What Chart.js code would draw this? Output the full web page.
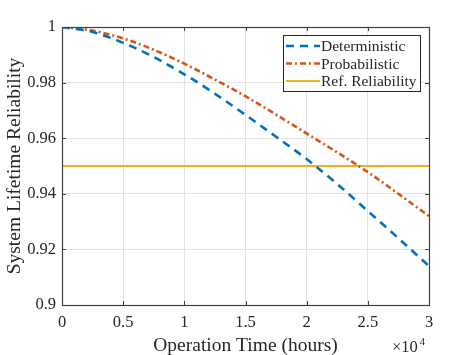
<!DOCTYPE html>
<html>
<head>
<meta charset="utf-8">
<script src="https://cdn.jsdelivr.net/npm/chart.js@4"></script>
<style>
html,body{margin:0;padding:0;background:#fff;}
#wrap{width:474px;height:355px;position:relative;}
</style>
</head>
<body>
<div id="wrap"><canvas id="c" width="474" height="355"></canvas></div>
<script>
// Operation time (hours)
const timeHours = [0, 2500, 5000, 7500, 10000, 12500, 15000, 17500, 20000, 22500, 25000, 27500, 30000];
// System lifetime reliability
const deterministic = [1.0, 0.9982, 0.9943, 0.9892, 0.9830, 0.9760, 0.9684, 0.9605, 0.9525, 0.9435, 0.9338, 0.9240, 0.9140];
const probabilistic = [1.0, 0.9987, 0.9959, 0.9918, 0.9868, 0.9811, 0.9751, 0.9685, 0.9617, 0.9549, 0.9478, 0.9400, 0.9320];
const refTime = [0, 30000];
const refReliability = [0.95, 0.95];
const seriesNames = ['Deterministic', 'Probabilistic', 'Ref. Reliability'];
const xTickValues = [0, 5000, 10000, 15000, 20000, 25000, 30000];
const yTickValues = [0.9, 0.92, 0.94, 0.96, 0.98, 1];

const FONT = '"Liberation Serif", "Times New Roman", serif';
const TXT = '#262626';

function pts(xs, ys){ return xs.map((x,i)=>({x:x, y:ys[i]})); }

const boxPlugin = {
  id: 'matlabBox',
  afterDatasetsDraw(chart){
    const {ctx, chartArea:a, scales} = chart;
    const xs = scales.x, ys = scales.y;
    ctx.save();
    // inward ticks
    ctx.strokeStyle = '#404040';
    ctx.lineWidth = 1;
    ctx.beginPath();
    xTickValues.forEach(v=>{
      const p = Math.round(xs.getPixelForValue(v))+0.5;
      ctx.moveTo(p, a.bottom); ctx.lineTo(p, a.bottom-4);
      ctx.moveTo(p, a.top); ctx.lineTo(p, a.top+4);
    });
    yTickValues.forEach(v=>{
      const p = Math.round(ys.getPixelForValue(v))+0.5;
      ctx.moveTo(a.left, p); ctx.lineTo(a.left+4, p);
      ctx.moveTo(a.right, p); ctx.lineTo(a.right-4, p);
    });
    ctx.stroke();
    // box
    ctx.strokeStyle = '#404040';
    ctx.lineWidth = 1.2;
    ctx.strokeRect(Math.round(a.left)+0.5, Math.round(a.top)+0.5, Math.round(a.right-a.left), Math.round(a.bottom-a.top));

    // legend
    const lx = 283, ly = 35, lw = 137, lh = 56;
    ctx.fillStyle = '#fff';
    ctx.fillRect(lx, ly, lw, lh);
    ctx.strokeStyle = '#262626';
    ctx.lineWidth = 1;
    ctx.strokeRect(lx+0.5, ly+0.5, lw, lh);
    const rows = [46, 63.5, 81];
    chart.data.datasets.forEach((ds, i)=>{
      const y = rows[i];
      ctx.strokeStyle = ds.borderColor;
      ctx.lineWidth = ds.borderWidth;
      ctx.setLineDash(ds.borderDash || []);
      ctx.beginPath();
      ctx.moveTo(286, y); ctx.lineTo(320, y);
      ctx.stroke();
      ctx.setLineDash([]);
      ctx.fillStyle = TXT;
      ctx.font = '15.5px ' + FONT;
      ctx.textAlign = 'left';
      ctx.textBaseline = 'middle';
      ctx.fillText(ds.label, 321, y+1);
    });

    // x10^4 multiplier
    ctx.fillStyle = TXT;
    ctx.font = '16.5px ' + FONT;
    ctx.textAlign = 'left';
    ctx.textBaseline = 'alphabetic';
    ctx.fillText('\u00d710', 392, 352);
    ctx.font = '11px ' + FONT;
    ctx.fillText('4', 419.5, 345);
    ctx.restore();
  }
};

const chart = new Chart(document.getElementById('c'), {
  type: 'line',
  data: {
    datasets: [
      {
        label: seriesNames[0],
        data: pts(timeHours, deterministic),
        borderColor: '#0072BD',
        borderWidth: 2.6,
        borderDash: [8, 6],
        pointRadius: 0,
        cubicInterpolationMode: 'monotone',
        fill: false
      },
      {
        label: seriesNames[1],
        data: pts(timeHours, probabilistic),
        borderColor: '#D95319',
        borderWidth: 2.6,
        borderDash: [6, 3, 2, 3],
        pointRadius: 0,
        cubicInterpolationMode: 'monotone',
        fill: false
      },
      {
        label: seriesNames[2],
        data: pts(refTime, refReliability),
        borderColor: '#EDB120',
        borderWidth: 2,
        pointRadius: 0,
        fill: false
      }
    ]
  },
  options: {
    responsive: false,
    animation: false,
    devicePixelRatio: 1,
    layout: { padding: { left: 0, right: 45, top: 27, bottom: 0 } },
    plugins: { legend: { display: false }, tooltip: { enabled: false } },
    scales: {
      x: {
        type: 'linear',
        min: 0, max: 30000,
        afterBuildTicks(scale){ scale.ticks = xTickValues.map(v=>({value:v})); },
        afterFit(scale){ scale.height = 50; },
        grid: { color: '#e3e3e3', drawTicks: false, lineWidth: 1 },
        border: { display: false },
        ticks: {
          color: TXT,
          font: { family: FONT, size: 16.5 },
          padding: 8,
          maxRotation: 0,
          callback: v => String(v/10000)
        },
        title: {
          display: true,
          text: 'Operation Time (hours)',
          color: TXT,
          font: { family: FONT, size: 19.5, lineHeight: 1 },
          padding: { top: 0, bottom: -1 }
        }
      },
      y: {
        type: 'linear',
        min: 0.9, max: 1,
        afterBuildTicks(scale){ scale.ticks = yTickValues.map(v=>({value:v})); },
        afterFit(scale){ scale.width = 62; },
        grid: { color: '#e3e3e3', drawTicks: false, lineWidth: 1 },
        border: { display: false },
        ticks: {
          color: TXT,
          font: { family: FONT, size: 16.5 },
          padding: 6,
          callback: v => String(Math.round(v*100)/100)
        },
        title: {
          display: true,
          text: 'System Lifetime Reliability',
          color: TXT,
          font: { family: FONT, size: 19.5, lineHeight: 1.2 },
          padding: { top: 3, bottom: 0 }
        }
      }
    }
  },
  plugins: [boxPlugin]
});
</script>
</body>
</html>
